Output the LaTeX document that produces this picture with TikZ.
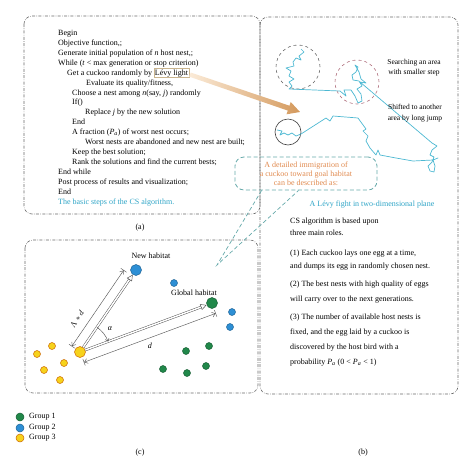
\documentclass[tikz,border=0pt]{standalone}
\usepackage{fontspec}
\setmainfont{Liberation Serif}
\usetikzlibrary{arrows.meta,calc}
\definecolor{frame}{HTML}{6A6A6A}
\definecolor{tealtxt}{HTML}{2EA4C6}
\definecolor{orangetxt}{HTML}{E08A4F}
\definecolor{levy}{HTML}{4DB8D2}
\definecolor{bubteal}{HTML}{66A9AA}
\definecolor{grp1}{HTML}{21884A}
\definecolor{grp2}{HTML}{2D8FD5}
\definecolor{grp3}{HTML}{F6D21C}
\definecolor{levbox}{HTML}{C9B48E}
\definecolor{arrlight}{HTML}{FBEBD8}
\definecolor{arrdark}{HTML}{D4995C}
\definecolor{mauve}{HTML}{B0707E}
\begin{document}
\begin{tikzpicture}[x=1pt,y=-1pt,font=\fontsize{8}{10}\selectfont,
  frm/.style={draw=frame,line width=0.6pt,dash pattern=on 3pt off 1.4pt on 0.6pt off 1.4pt,rounded corners=8pt},
  ln/.style={anchor=west,inner sep=0pt,text height=6pt,text depth=2pt},
  levstyle/.style={draw=levbox,line width=0.4pt,inner sep=0.8pt},
  dot/.style={circle,inner sep=0pt,minimum size=7pt,line width=0.5pt},
  g1/.style={dot,fill=grp1,draw=grp1!70!black},
  g2/.style={dot,fill=grp2,draw=grp2!70!black},
  g3/.style={dot,fill=grp3,draw=orange!80!black},
  big/.style={minimum size=11pt},
  dbl/.style={draw=black!70,line width=0.45pt,double=white,double distance=1.5pt,
    -{Triangle[open,length=6pt,width=6pt]}},
  dim/.style={draw=black!65,line width=0.45pt,
    {Bar[width=7pt]Straight Barb[length=3pt,width=5pt]}-{Straight Barb[length=3pt,width=5pt]Bar[width=7pt]}},
  lvpath/.style={draw=levy,line width=0.7pt,line join=round}]
\useasboundingbox (0,0) rectangle (474,475);

% frames
\draw[frm] (24,16) rectangle (260,214);
\draw[frm] (260,17) rectangle (458,394);
\draw[frm] (25,240) rectangle (258,393);

% (a) algorithm text
\node[ln] (a1) at (58,33) {Begin};
\node[ln] (a2) at (58,43) {Objective function,;};
\node[ln] (a3) at (58,53) {Generate initial population of \textit{n} host nest,;};
\node[ln] (a4) at (58,63) {While (\textit{t} < max generation or stop criterion)};
\node[ln] (a5) at (67,73) {Get a cuckoo randomly by};
\node[levstyle,anchor=base west] (lev) at ($(a5.base east)+(1.6,0)$) {Lévy light};
\node[ln] (a6) at (86,83) {Evaluate its quality/fitness,};
\node[ln] (a7) at (72,93) {Choose a nest among \textit{n}(say, \textit{j}) randomly};
\node[ln] (a8) at (72,102) {If()};
\node[ln] (a9) at (85,112) {Replace \textit{j} by the new solution};
\node[ln] (a10) at (72,122) {End};
\node[ln] (a11) at (72,132) {A fraction (\textit{P}\textsubscript{\textit{a}}) of worst nest occurs;};
\node[ln] (a12) at (85,142) {Worst nests are abandoned and new nest are built;};
\node[ln] (a13) at (72,152) {Keep the best solution;};
\node[ln] (a14) at (72,162) {Rank the solutions and find the current bests;};
\node[ln] (a15) at (58,172) {End while};
\node[ln] (a16) at (58,182) {Post process of results and visualization;};
\node[ln] (a17) at (58,192) {End};
\node[ln,text=tealtxt] (a18) at (58,202) {The basic steps of the CS algorithm.};
\node (capa) at (140,228) {(a)};

% Levy flight
\draw[draw=frame,line width=0.6pt,dashed] (298,67) circle[radius=22pt];
\draw[draw=mauve,line width=0.6pt,dashed] (357,82) circle[radius=22pt];
\draw[draw=black!75,line width=0.6pt] (288,132) circle[radius=13pt];
\draw[lvpath] (301,49) -- (304,52) -- (299,56) -- (301,60) -- (296,58) -- (293,62) -- (294,66)
  -- (286,68) -- (291,71) -- (289,76) -- (294,79) -- (289,82) -- (292,86) -- (289,89)
  -- (340,91) -- (346,96) -- (344,90) -- (351,90) -- (355,96) -- (358,103) -- (362,101)
  -- (361,94) -- (357,89) -- (362,86) -- (359,81) -- (353,80) -- (352,75) -- (356,72)
  -- (358,67) -- (355,65) -- (359,72) -- (361,79) -- (366,83) -- (360,82)
  -- (432,143) -- (437,146) -- (432,150) -- (430,155) -- (434,157) -- (432,162) -- (428,166)
  -- (430,171) -- (434,172) -- (435,166) -- (433,160) -- (438,158) -- (433,160)
  -- (413,161) -- (396,158) -- (380,155) -- (378,150) -- (376,155) -- (370,148) -- (366,141)
  -- (368,136) -- (363,131) -- (366,129) -- (358,118) -- (333,116) -- (330,121) -- (326,118)
  -- (301,134) -- (296,136) -- (292,133) -- (288,135) -- (284,133) -- (280,135) -- (282,131) -- (277,130);
\node[align=center,font=\fontsize{7.5}{10.5}\selectfont] (srch) at (414,67.5) {Searching an area\\with smaller step};
\node[align=center,font=\fontsize{7.5}{10.5}\selectfont] (shft) at (415,113) {Shifted to another\\area by long jump};

% orange arrow from Levy light
\coordinate (S) at ($(lev.east)+(1,1.5)$);
\coordinate (T) at (300,112);
\coordinate (B) at ($(T)!12pt!(S)$);
\shade[left color=arrlight,right color=arrdark]
  ($(S)!2.2pt!90:(T)$) -- ($(B)!2.6pt!-90:(S)$) -- ($(B)!6.5pt!-90:(S)$) -- (T)
  -- ($(B)!6.5pt!90:(S)$) -- ($(B)!2.6pt!90:(S)$) -- ($(S)!2.2pt!-90:(T)$) -- cycle;

% callout bubble
\node[draw=bubteal,line width=0.8pt,dash pattern=on 4pt off 2.5pt,rounded corners=9pt,
  minimum width=142pt,minimum height=33pt,inner sep=0pt,text=orangetxt,align=center,
  font=\fontsize{8}{9}\selectfont] (bub) at (306,173.5)
  {A detailed immigration of\\a cuckoo toward goal habitat\\can be described as:};
\coordinate (ptip) at (217,265);
\draw[bubteal,line width=0.7pt,dash pattern=on 4pt off 2.5pt]
  ($(bub.south west)+(27,0)$) -- (ptip) -- ($(bub.south west)+(64,0)$);

% (b) text
\node[text=tealtxt] (capl) at (372,205) {A Lévy fight in two-dimensional plane};
\node[ln] (b1) at (290,221) {CS algorithm is based upon};
\node[ln] (b2) at (290,233) {three main roles.};
\node[ln] (b3) at (290,253) {(1) Each cuckoo lays one egg at a time,};
\node[ln] (b4) at (290,266) {and dumps its egg in randomly chosen nest.};
\node[ln] (b5) at (290,284) {(2) The best nests with high quality of eggs};
\node[ln] (b6) at (290,299) {will carry over to the next generations.};
\node[ln] (b7) at (290,317) {(3) The number of available host nests is};
\node[ln] (b8) at (290,332) {fixed, and the egg laid by a cuckoo is};
\node[ln] (b9) at (290,347) {discovered by the host bird with a};
\node[ln] (b10) at (290,362) {probability \textit{P}\textsubscript{\textit{a}} (0 < \textit{P}\textsubscript{\textit{a}} < 1)};
\node (capb) at (363,453) {(b)};

% (c)
\node[g3,big] (cu) at (80,352) {};
\node[g2,big] (nh) at (136,270) {};
\node[g1,big] (gh) at (212,303) {};
\node (nhl) at (151,256) {New habitat};
\node (ghl) at (194,293) {Global habitat};
\foreach \p [count=\i] in {(52,346),(37,354),(64,363),(44,370),(60,380)} \node[g3] (y\i) at \p {};
\foreach \p [count=\i] in {(174,283),(232,312),(230,327)} \node[g2] (bb\i) at \p {};
\foreach \p [count=\i] in {(186,351),(209,346),(163,369),(187,373),(206,366)} \node[g1] (gg\i) at \p {};
\draw[dbl] (cu) -- (nh);
\draw[dbl] (cu) -- (gh);
\draw[dim] ($(cu)!10pt!90:(nh)$) -- ($($(cu)!0.93!(nh)$)!10pt!-90:(cu)$);
\node[rotate=56,inner sep=0pt] (lam) at (77,319) {$\Lambda\ast d$};
\draw[dim] ($(cu)!11pt!-90:(gh)$) -- ($(gh)!11pt!90:(cu)$)
  node[pos=0.5,below=2pt] {\textit{d}};
\draw[draw=black!65,line width=0.45pt,-{Straight Barb[length=2.5pt,width=4pt]}]
  ($(cu)+(16.9,-24.8)$) arc[start angle=55.7,end angle=20.4,radius=30pt];
\node (alp) at (110,329) {\textit{α}};

% legend
\node[g1,minimum size=8pt] (l1) at (20,417) {};
\node[g2,minimum size=8pt] (l2) at (20,428) {};
\node[g3,minimum size=8pt] (l3) at (20,438) {};
\node[anchor=west,inner sep=0pt] (t1) at (29,417) {Group 1};
\node[anchor=west,inner sep=0pt] (t2) at (29,428) {Group 2};
\node[anchor=west,inner sep=0pt] (t3) at (29,438) {Group 3};
\node (capc) at (140,453) {(c)};
\end{tikzpicture}
\end{document}
